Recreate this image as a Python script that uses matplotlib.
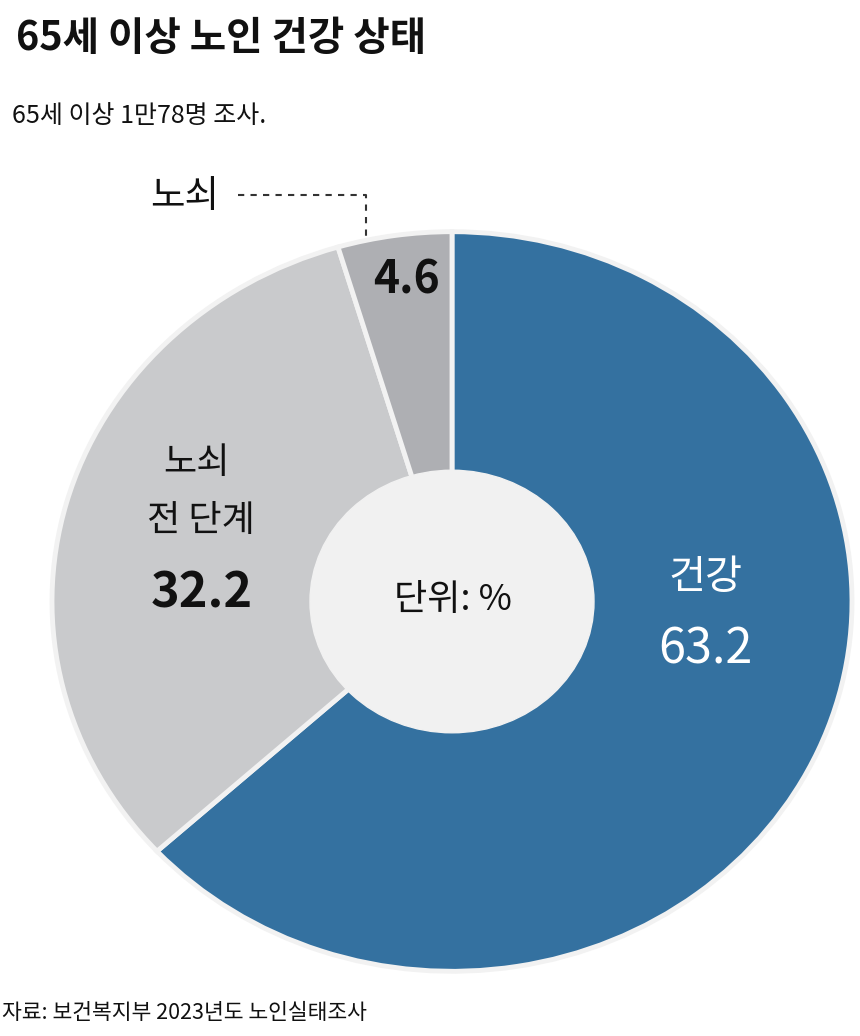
import matplotlib
matplotlib.use("Agg")
import matplotlib.pyplot as plt
from matplotlib.patches import Circle
from matplotlib.lines import Line2D

plt.rcParams['font.family'] = ['Noto Sans CJK KR', 'DejaVu Sans']

# Data
categories = ['건강', '노쇠 전 단계', '노쇠']
values = [63.2, 32.2, 4.6]
colors = ['#3471a0', '#c9cacc', '#aeafb3']

title = '65세 이상 노인 건강 상태'
subtitle = '65세 이상 1만78명 조사.'
source = '자료: 보건복지부 2023년도 노인실태조사'
unit = '단위: %'

W, H = 860, 1036
fig = plt.figure(figsize=(W / 100, H / 100), dpi=100)
fig.patch.set_facecolor('white')

def fx(px):
    return px / W

def fy(py):
    return 1 - py / H

# Pie axes (elliptical, as in the reference)
left, right, top, bottom = 48, 856, 228, 975
ax = fig.add_axes([fx(left), fy(bottom), fx(right - left), (bottom - top) / H])
wedges, _ = ax.pie(values, colors=colors, startangle=90, counterclock=False,
                   radius=1.0,
                   wedgeprops=dict(edgecolor='#f2f2f2', linewidth=3.5))
ax.set_aspect('auto')
ax.set_xlim(-1.01, 1.01)
ax.set_ylim(-1.01, 1.01)
ax.axis('off')
ax.add_patch(Circle((0, 0), 0.355, facecolor='#f1f1f1', edgecolor='#f1f1f1', zorder=5))

# Titles
fig.text(fx(16), fy(38), title, fontsize=28.5, fontweight='bold', color='#111111',
         ha='left', va='center')
fig.text(fx(12), fy(116), subtitle, fontsize=18, color='#111111', ha='left', va='center')
fig.text(fx(2), fy(1013), source, fontsize=15.5, color='#111111', ha='left', va='center')

# Labels inside the pie
fig.text(fx(705), fy(578), categories[0], fontsize=29, color='white', ha='center', va='center')
fig.text(fx(705), fy(650), f'{values[0]:.1f}', fontsize=35, color='white', ha='center', va='center')

fig.text(fx(196), fy(463), '노쇠', fontsize=26, color='#111111', ha='center', va='center')
fig.text(fx(201), fy(521), '전 단계', fontsize=26, color='#111111', ha='center', va='center')
fig.text(fx(202), fy(593), f'{values[1]:.1f}', fontsize=35, fontweight='bold', color='#111111',
         ha='center', va='center')

fig.text(fx(406), fy(280), f'{values[2]:.1f}', fontsize=32, fontweight='bold', color='#111111',
         ha='center', va='center')

# Outside label for small slice with dashed connector
fig.text(fx(185), fy(196), categories[2], fontsize=27, color='#111111', ha='center', va='center')
fig.add_artist(Line2D([fx(238), fx(366), fx(366)], [fy(195), fy(195), fy(242)],
                      transform=fig.transFigure, color='#333333', linewidth=1.5,
                      linestyle=(0, (3, 3))))

# Unit in the center
fig.text(fx(453), fy(600), unit, fontsize=26, color='#111111', ha='center', va='center', zorder=10)

fig.savefig('out.png', dpi=100, facecolor='white')
